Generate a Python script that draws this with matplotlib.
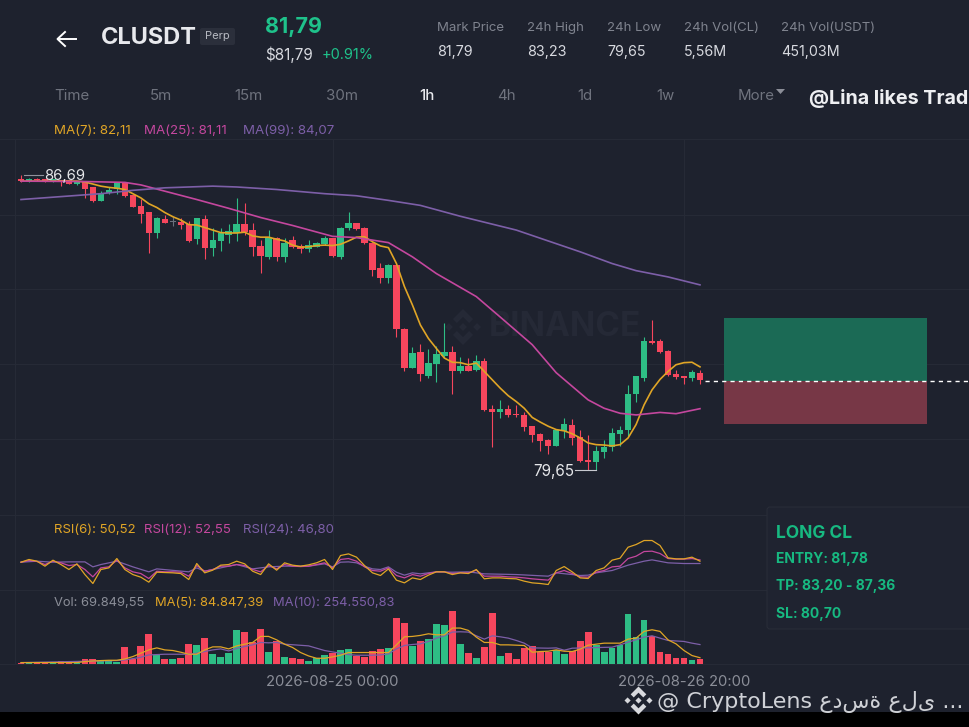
import matplotlib
matplotlib.use("Agg")
import matplotlib.pyplot as plt
from matplotlib.patches import Polygon, Rectangle, FancyBboxPatch

# candles, 1h
opens = [86.61, 86.55, 86.61, 86.60, 86.53, 86.57, 86.57, 86.48, 86.53, 86.40, 86.08, 86.27, 86.35, 86.51, 86.21,
         85.95, 85.80, 85.31, 85.64, 85.57, 85.58, 85.52, 85.16, 85.64, 84.94, 85.11, 85.26, 85.30, 85.52, 85.38,
         85.00, 84.74, 85.20, 84.74, 85.14, 85.00, 84.92, 84.98, 85.04, 85.19, 84.74, 85.42, 85.55, 85.44, 85.08,
         84.47, 84.24, 84.54, 83.02, 82.09, 82.46, 81.90, 82.17, 82.37, 82.46, 82.00, 82.12, 82.04, 82.25, 81.10,
         81.04, 81.11, 80.99, 80.96, 80.69, 80.51, 80.37, 80.22, 80.57, 80.73, 80.43, 79.89, 79.83, 80.07, 80.19,
         80.50, 80.61, 81.46, 81.85, 82.72, 82.73, 82.50, 81.93, 81.89, 81.85, 81.96]
closes = [86.55, 86.60, 86.57, 86.55, 86.59, 86.52, 86.49, 86.55, 86.37, 86.08, 86.27, 86.33, 86.51, 86.19, 85.93,
          85.77, 85.32, 85.66, 85.55, 85.57, 85.51, 85.12, 85.66, 84.94, 85.14, 85.32, 85.35, 85.52, 85.34, 84.98,
          84.76, 85.20, 84.74, 85.08, 84.98, 84.92, 85.02, 85.08, 85.19, 84.76, 85.44, 85.54, 85.40, 85.06, 84.42,
          84.24, 84.54, 83.01, 82.09, 82.44, 81.93, 82.20, 82.41, 82.46, 82.00, 82.13, 82.02, 82.24, 81.07, 81.04,
          81.11, 80.95, 80.95, 80.67, 80.48, 80.34, 80.21, 80.61, 80.75, 80.42, 79.87, 79.83, 80.11, 80.19, 80.53,
          80.61, 81.46, 81.88, 82.73, 82.67, 82.47, 81.92, 81.86, 81.85, 81.98, 81.79]
highs = [86.69, 86.62, 86.62, 86.61, 86.60, 86.58, 86.58, 86.56, 86.54, 86.41, 86.32, 86.40, 86.52, 86.52, 86.22,
         86.13, 85.81, 85.70, 85.75, 85.70, 85.66, 85.59, 85.68, 85.75, 85.42, 85.42, 85.52, 86.14, 86.03, 85.54,
         85.14, 85.38, 85.22, 85.20, 85.23, 85.04, 85.14, 85.09, 85.23, 85.20, 85.45, 85.80, 85.56, 85.46, 85.09,
         84.60, 84.58, 84.55, 83.03, 82.58, 82.65, 82.53, 82.61, 83.15, 82.62, 82.34, 82.32, 82.39, 82.32, 81.20,
         81.32, 81.20, 81.20, 81.04, 80.70, 80.52, 80.38, 80.62, 80.88, 80.87, 80.59, 80.49, 80.22, 80.37, 80.65,
         80.69, 81.68, 81.90, 82.83, 83.23, 82.78, 82.51, 82.04, 81.90, 82.04, 82.04]
lows = [86.54, 86.54, 86.56, 86.54, 86.52, 86.44, 86.48, 86.46, 86.15, 86.04, 86.08, 86.25, 86.25, 86.18, 85.92,
        85.55, 84.82, 85.18, 85.54, 85.47, 85.40, 85.10, 85.04, 84.70, 84.77, 84.88, 85.06, 85.12, 85.26, 84.77,
        84.36, 84.69, 84.65, 84.62, 84.96, 84.84, 84.86, 84.97, 85.03, 84.74, 84.70, 85.38, 85.38, 85.05, 84.28,
        84.11, 84.12, 82.83, 82.02, 82.08, 81.78, 81.85, 81.74, 82.32, 81.47, 81.96, 82.00, 82.01, 81.06, 80.19,
        80.88, 80.91, 80.92, 80.57, 80.31, 80.11, 80.03, 80.21, 80.42, 80.25, 79.83, 79.65, 79.65, 79.94, 80.09,
        80.21, 80.46, 81.27, 81.78, 82.66, 82.45, 81.90, 81.81, 81.70, 81.78, 81.70]

ma7 = [86.55, 86.55, 86.55, 86.55, 86.55, 86.55, 86.55, 86.55, 86.53, 86.48, 86.43, 86.40, 86.38, 86.35, 86.25,
       86.15, 86.01, 85.92, 85.80, 85.70, 85.62, 85.51, 85.50, 85.44, 85.38, 85.32, 85.31, 85.31, 85.33, 85.24,
       85.21, 85.21, 85.16, 85.12, 85.02, 84.97, 84.98, 85.01, 85.02, 85.01, 85.04, 85.12, 85.21, 85.22, 85.10,
       85.00, 84.96, 84.58, 84.03, 83.59, 83.11, 82.79, 82.55, 82.32, 82.22, 82.21, 82.16, 82.20, 82.00, 81.80,
       81.60, 81.42, 81.28, 81.12, 80.90, 80.79, 80.69, 80.61, 80.58, 80.51, 80.41, 80.29, 80.25, 80.24, 80.22,
       80.25, 80.41, 80.73, 81.20, 81.56, 81.81, 82.00, 82.16, 82.21, 82.22, 82.11]
ma25_idx = [0, 8, 13, 15, 18, 22, 26, 30, 34, 39, 42, 44, 46, 49, 52, 57, 60, 64, 67, 71, 73, 75, 77, 80, 82, 85]
ma25 = [86.55, 86.54, 86.52, 86.46, 86.31, 86.11, 85.90, 85.68, 85.49, 85.23, 85.20, 85.14, 85.08, 84.74, 84.34,
        83.79, 83.30, 82.64, 81.97, 81.32, 81.12, 81.00, 80.96, 81.02, 80.99, 81.11]
ma99_idx = [0, 10, 14, 18, 24, 27, 32, 38, 42, 46, 50, 55, 62, 66, 70, 74, 77, 81, 85]
ma99 = [86.11, 86.25, 86.33, 86.39, 86.43, 86.41, 86.35, 86.25, 86.20, 86.09, 85.97, 85.71, 85.38, 85.12, 84.86,
        84.58, 84.41, 84.26, 84.07]

rsi6 = [48.9, 53.2, 50.5, 42.6, 52.1, 45.2, 37.3, 46.3, 29.3, 15.1, 37.3, 39.9, 54.7, 37.3, 29.3, 25.1, 17.2, 33.0,
        32.5, 32.0, 30.9, 21.4, 46.8, 32.0, 36.2, 44.2, 45.2, 50.5, 46.3, 34.6, 29.3, 46.3, 36.2, 47.9, 44.2, 42.6,
        44.7, 47.9, 53.2, 37.3, 59.5, 62.1, 56.9, 43.6, 32.0, 27.8, 38.3, 20.4, 16.1, 24.0, 21.4, 28.3, 33.6, 33.6,
        29.3, 32.0, 30.9, 37.3, 22.5, 24.0, 24.0, 23.0, 22.5, 18.8, 16.1, 15.1, 13.5, 35.7, 42.0, 33.6, 24.0, 23.0,
        35.7, 39.9, 52.1, 55.3, 72.7, 76.9, 83.3, 83.3, 75.4, 55.8, 54.2, 54.2, 56.9, 50.5]
rsi12 = [48.9, 51.6, 50.0, 45.2, 50.5, 47.9, 43.6, 45.2, 37.3, 25.6, 39.9, 41.5, 52.1, 39.9, 33.6, 30.9, 23.0, 34.6,
         33.6, 33.6, 33.0, 26.7, 43.6, 34.6, 37.3, 42.6, 42.6, 45.2, 43.6, 37.3, 33.6, 43.6, 38.3, 45.2, 42.6, 42.0,
         42.6, 45.2, 47.9, 39.9, 53.2, 54.7, 50.5, 41.5, 35.7, 34.6, 39.9, 27.8, 24.0, 29.3, 26.7, 30.9, 33.6, 33.6,
         30.9, 32.0, 32.0, 36.2, 26.7, 26.7, 26.7, 25.6, 25.1, 24.0, 22.5, 21.4, 20.4, 32.0, 35.7, 30.9, 25.6, 25.1,
         33.0, 35.7, 41.5, 42.6, 54.7, 58.4, 65.8, 66.4, 62.7, 54.7, 53.7, 53.7, 54.7, 52.5]
rsi24_idx = [0, 2, 4, 6, 8, 9, 10, 12, 14, 16, 17, 21, 22, 23, 25, 27, 29, 31, 33, 36, 38, 39, 40, 41, 42, 43, 44, 45,
             46, 47, 48, 49, 50, 52, 54, 56, 58, 62, 66, 67, 69, 70, 71, 72, 74, 76, 78, 79, 81, 83, 85]
rsi24 = [48.9, 50.5, 48.9, 49.4, 49.4, 41.5, 45.2, 50.5, 41.5, 33.6, 38.3, 33.6, 39.9, 34.6, 39.9, 45.2, 38.3, 41.5,
         42.6, 42.6, 46.3, 41.5, 48.9, 49.4, 47.9, 42.6, 38.3, 37.3, 41.5, 33.0, 28.3, 32.0, 30.4, 33.6, 33.0, 33.6,
         30.4, 29.3, 26.7, 32.0, 29.3, 27.8, 28.3, 32.0, 35.7, 44.2, 50.5, 52.6, 47.9, 46.8, 46.8]

# volume in thousands
vol = [13, 22, 17, 17, 17, 39, 22, 17, 65, 74, 39, 39, 35, 221, 74, 238, 386, 126, 74, 69, 82, 256, 251, 342, 134,
       100, 152, 442, 416, 282, 455, 160, 295, 95, 82, 69, 39, 87, 117, 152, 182, 199, 108, 91, 169, 204, 212, 602,
       533, 230, 299, 329, 524, 511, 685, 264, 143, 82, 221, 667, 108, 143, 69, 212, 238, 165, 160, 186, 139, 169,
       303, 420, 251, 160, 212, 251, 654, 351, 568, 368, 160, 130, 78, 78, 61, 70]
vol_ma5 = [22, 22, 22, 22, 22, 22, 22, 22, 35, 43, 48, 52, 52, 69, 100, 143, 186, 212, 186, 178, 156, 130, 130, 186,
           225, 225, 199, 238, 260, 282, 360, 360, 316, 260, 217, 152, 108, 78, 78, 95, 117, 152, 152, 152, 152, 152,
           152, 251, 355, 360, 373, 394, 381, 381, 468, 468, 438, 351, 282, 282, 251, 251, 247, 243, 156, 165, 169,
           186, 169, 165, 195, 247, 260, 273, 273, 273, 325, 338, 425, 446, 425, 316, 264, 178, 113, 85]
vol_ma10_idx = [0, 12, 13, 15, 16, 18, 21, 22, 23, 24, 25, 26, 27, 28, 29, 30, 31, 32, 33, 36, 37, 38, 39, 40, 41, 42,
                44, 45, 46, 47, 48, 49, 50, 51, 52, 53, 54, 55, 56, 57, 58, 59, 60, 61, 62, 63, 64, 66, 67, 68, 69,
                74, 75, 76, 77, 78, 79, 80, 81, 83, 84, 85]
vol_ma10 = [22, 48, 56, 91, 121, 130, 130, 143, 165, 186, 199, 173, 204, 230, 251, 282, 277, 282, 260, 238, 208, 178,
            160, 143, 126, 117, 117, 121, 134, 199, 243, 256, 264, 295, 338, 368, 416, 420, 416, 368, 325, 368, 355,
            338, 308, 273, 212, 208, 212, 182, 208, 221, 251, 286, 316, 351, 368, 338, 308, 295, 273, 255]

date_ticks = [39, 83]
date_labels = ["2026-08-25 00:00", "2026-08-26 20:00"]
price_grid = [85.75, 83.96, 82.17, 80.38]
rsi_grid = []
peak_price, peak_idx = 86.69, 0
low_price, low_idx = 79.65, 72
tp_price, entry_price, sl_price = 83.28, 81.78, 80.75

W, H = 969, 727
BG = "#1e222e"
GRID = "#272b37"
RED = "#f6465d"
GREEN = "#2ebd85"
YEL = "#e0a526"
MAG = "#c4479e"
PUR = "#7d5fa8"
GREY = "#7f838e"
TXT = "#d8dae0"

plt.rcParams["font.family"] = ["Inter", "DejaVu Sans"]


def panel(fig, top, bottom):
    ax = fig.add_axes([0, 1 - bottom / H, 1, (bottom - top) / H], facecolor="none")
    ax.set_xlim(-2.629, 118.68)
    for s in ["left", "right", "bottom"]:
        ax.spines[s].set_visible(False)
    ax.spines["top"].set_color(GRID)
    ax.spines["top"].set_linewidth(0.7)
    ax.tick_params(length=0, labelleft=False, labelbottom=False)
    ax.set_xticks(date_ticks)
    ax.grid(color=GRID, linewidth=0.7)
    ax.set_axisbelow(True)
    ax.axvline(-0.75, color=GRID, linewidth=0.7, zorder=0)
    return ax


def draw_candles(ax):
    for i, (o, c, h, l) in enumerate(zip(opens, closes, highs, lows)):
        col = RED if c < o else GREEN
        if c == o:
            col = "#6b707c"
        ax.vlines(i, l, h, color=col, linewidth=0.8, zorder=2)
        body = max(abs(c - o), 0.03)
        ax.bar(i, body, bottom=min(o, c), width=0.8, color=col, zorder=3)


def draw_price(ax):
    ax.set_ylim(78.58, 87.55)
    ax.set_yticks(price_grid)
    draw_candles(ax)
    ax.plot(range(len(ma7)), ma7, color=YEL, linewidth=1.2, zorder=4)
    ax.plot(ma25_idx, ma25, color=MAG, linewidth=1.2, zorder=4)
    ax.plot(ma99_idx, ma99, color=PUR, linewidth=1.2, zorder=4)
    ax.add_patch(Rectangle((88.0, entry_price), 25.4, tp_price - entry_price, color="#1b6a55", lw=0, zorder=5))
    ax.add_patch(Rectangle((88.0, sl_price), 25.4, entry_price - sl_price, color="#773746", lw=0, zorder=5))
    ax.plot([85.6, 118.68], [entry_price, entry_price], color="white", linewidth=1, dashes=(3, 3), zorder=6)
    ax.plot([peak_idx + 0.4, peak_idx + 2.8], [peak_price, peak_price], color="#8f929c", linewidth=0.8, zorder=6)
    ax.text(peak_idx + 2.9, peak_price - 0.02, "86,69", color="#e6e7ea", fontsize=10.7, va="center", zorder=7)
    ax.plot([low_idx - 2.6, low_idx], [low_price, low_price], color="#c8cad0", linewidth=0.8, zorder=6)
    ax.text(low_idx - 2.8, low_price - 0.04, "79,65", color="#e6e7ea", fontsize=11, va="center", ha="right", zorder=7)


def draw_rsi(ax):
    ax.set_ylim(5.56, 124.6)
    ax.set_yticks(rsi_grid)
    ax.plot(rsi24_idx, rsi24, color=PUR, linewidth=0.9)
    ax.plot(range(len(rsi12)), rsi12, color=MAG, linewidth=0.9)
    ax.plot(range(len(rsi6)), rsi6, color=YEL, linewidth=0.9)


def draw_volume(ax):
    ax.set_ylim(0, 966)
    ax.set_yticks([])
    ax.spines["bottom"].set_visible(True)
    ax.spines["bottom"].set_color(GRID)
    ax.spines["bottom"].set_linewidth(0.7)
    cols = [RED if c < o else GREEN for o, c in zip(opens, closes)]
    ax.bar(range(len(vol)), vol, width=0.85, color=cols, zorder=2)
    ax.plot(vol_ma10_idx, vol_ma10, color=PUR, linewidth=0.9, zorder=3)
    ax.plot(range(len(vol_ma5)), vol_ma5, color=YEL, linewidth=0.9, zorder=3)
    ax.tick_params(labelbottom=True, pad=8, labelsize=10.7, labelcolor="#8b8e98")
    ax.set_xticklabels(date_labels)


def logo(ui, cx, cy, s, col):
    # binance mark: two chevrons, two side diamonds, one in the middle
    chevron = [(0, -1), (0.56, -0.44), (0.34, -0.22), (0, -0.56), (-0.34, -0.22), (-0.56, -0.44)]
    for flip in (1, -1):
        ui.add_patch(Polygon([(cx + a * s, cy + flip * b * s) for a, b in chevron], color=col, lw=0))
    for dx in (-0.78, 0, 0.78):
        r = 0.22
        ui.add_patch(Polygon([(cx + (dx - r) * s, cy), (cx + dx * s, cy - r * s),
                              (cx + (dx + r) * s, cy), (cx + dx * s, cy + r * s)], color=col, lw=0))


def draw_ui(ui):
    def label(x, y, s, col=GREY, size=9.5, weight="normal", ha="left", **kw):
        ui.text(x, y + 2, s, color=col, fontsize=size, fontweight=weight, ha=ha, va="center", **kw)

    ui.add_patch(Rectangle((0, 712), W, 15, color="black", lw=0))
    ui.plot([58, 76], [39, 39], color="white", linewidth=1.4)
    ui.plot([65, 57.5, 65], [32, 39, 46], color="white", linewidth=1.4)
    label(101, 36, "CLUSDT", "#e8e9ed", 17, "bold")
    ui.add_patch(FancyBboxPatch((201, 29), 33, 15, boxstyle="round,pad=1,rounding_size=2", color="#2b2f3b", lw=0))
    label(217, 34, "Perp", "#b7bac2", 8, ha="center")
    label(265, 25, "81,79", "#1fc28b", 15.5, "bold")
    label(265, 53, "$81,79", TXT, 11)
    label(322, 53, "+0.91%", "#1fc28b", 10.5)

    heads = ["Mark Price", "24h High", "24h Low", "24h Vol(CL)", "24h Vol(USDT)"]
    vals = ["81,79", "83,23", "79,65", "5,56M", "451,03M"]
    for x, a, b in zip([437, 527, 607, 684, 781], heads, vals):
        label(x, 26, a, GREY, 9.5)
        label(x, 50, b, TXT, 10.3)

    for x, s in zip([54, 150, 234, 326, 497, 577, 656, 738], ["Time", "5m", "15m", "30m", "4h", "1d", "1w", "More"]):
        label(x, 94, s, "#6f737e", 10.8)
    label(419, 94, "1h", "#e8e9ed", 10.8, "medium")
    ui.add_patch(Polygon([(776, 89), (785, 89), (780.5, 94)], color="#8b8e98", lw=0))
    label(809, 96, "@Lina likes Trad", "#eeeff2", 14.2, "bold", clip_on=True)

    label(54, 129, "MA(7): 82,11", YEL, 9.6)
    label(144, 129, "MA(25): 81,11", MAG, 9.6)
    label(243, 129, "MA(99): 84,07", PUR, 9.6)
    label(54, 528, "RSI(6): 50,52", YEL, 9.5)
    label(144, 528, "RSI(12): 52,55", MAG, 9.5)
    label(243, 528, "RSI(24): 46,80", PUR, 9.5)
    label(54, 601, "Vol: 69.849,55", "#8b8e98", 9.3)
    label(155, 601, "MA(5): 84.847,39", YEL, 9.3)
    label(273, 601, "MA(10): 254.550,83", PUR, 9.3)

    # signal box over the panels
    ui.add_patch(FancyBboxPatch((767, 507), 215, 122, boxstyle="round,pad=0,rounding_size=3", fc="#1f2330",
                                ec="#2a2e39", lw=0.7))
    label(776, 531, "LONG CL", "#17b981", 12.5, "bold")
    label(776, 557, "ENTRY: 81,78", "#17b981", 10, "bold")
    label(776, 584, "TP: 83,20 - 87,36", "#17b981", 10, "bold")
    label(776, 612, "SL: 80,70", "#17b981", 10, "bold")

    logo(ui, 638.5, 700.5, 14, "#d8d9dd")
    label(657, 700, "@ CryptoLens عدسة على ...", "#cfd1d6", 16, family="DejaVu Sans")


def main():
    fig = plt.figure(figsize=(W / 100, H / 100), dpi=100, facecolor=BG)
    ax_price = panel(fig, 139.3, 514.5)
    ax_rsi = panel(fig, 514.5, 589.5)
    ax_vol = panel(fig, 589.5, 664.3)

    ui_back = fig.add_axes([0, 0, 1, 1], facecolor="none", zorder=-1)
    ui_back.set_xlim(0, W)
    ui_back.set_ylim(H, 0)
    ui_back.axis("off")
    ui_back.text(565, 327, "BINANCE", color="#252936", fontsize=24, fontweight="bold", ha="center", va="center")
    logo(ui_back, 463, 327, 18, "#252936")

    draw_price(ax_price)
    draw_rsi(ax_rsi)
    draw_volume(ax_vol)

    ui = fig.add_axes([0, 0, 1, 1], facecolor="none", zorder=10)
    ui.set_xlim(0, W)
    ui.set_ylim(H, 0)
    ui.axis("off")
    draw_ui(ui)

    fig.savefig("out.png", dpi=100, facecolor=BG)


if __name__ == "__main__":
    main()
